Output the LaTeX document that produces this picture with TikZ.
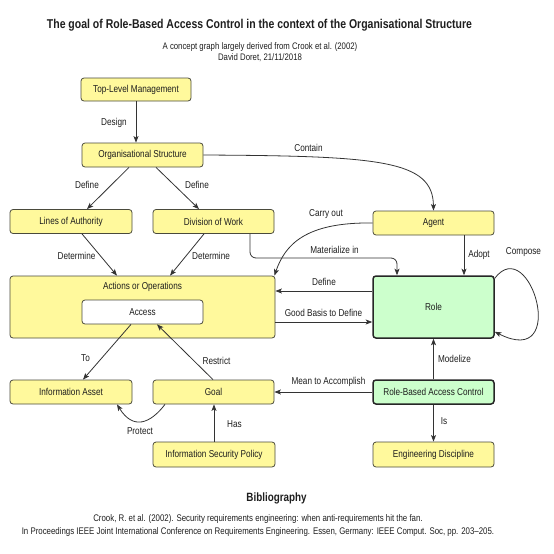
\documentclass[tikz,border=0pt]{standalone}
\usepackage{fontspec}
\setmainfont[FakeStretch=0.82]{Liberation Sans}
\usetikzlibrary{arrows.meta}
\definecolor{boxyellow}{HTML}{FFF99C}
\definecolor{boxgreen}{HTML}{CCFFCC}
\definecolor{boxline}{HTML}{4A4A3C}
\definecolor{edgecol}{HTML}{333333}
\definecolor{txt}{HTML}{1E1E1E}
\begin{document}
\begin{tikzpicture}[x=1pt,y=-1pt,
  every node/.style={text=txt},
  box/.style={draw=boxline,fill=boxyellow,line width=0.8pt,rounded corners=3pt,
    minimum width=121pt,minimum height=24pt,inner sep=0pt,
    font=\fontsize{10}{12}\selectfont},
  gbox/.style={box,fill=boxgreen,draw=black!85,line width=1.5pt},
  lbl/.style={font=\fontsize{10}{12}\selectfont,inner sep=0pt},
  edge/.style={draw=edgecol,line width=0.8pt,-{Stealth[length=6.5pt,width=5pt,inset=1.5pt]}}
]
\useasboundingbox (0,0) rectangle (554,554);

% titles
\node[font=\fontsize{12.8}{15}\selectfont\bfseries,inner sep=0pt] (title) at (259.5,25)
  {The goal of Role-Based Access Control in the context of the Organisational Structure};
\node[font=\fontsize{9.5}{11}\selectfont,align=center,inner sep=0pt] (sub) at (260,52.5)
  {A concept graph largely derived from Crook et al. (2002)\\David Doret, 21/11/2018};
\node[font=\fontsize{12}{14}\selectfont\bfseries,inner sep=0pt] (bib) at (276.5,498) {Bibliography};
\node[font=\fontsize{9.6}{13}\selectfont,align=center,inner sep=0pt] (ref) at (258,525.5)
  {Crook, R. et al. (2002). Security requirements engineering: when anti-requirements hit the fan.\\
   In Proceedings IEEE Joint International Conference on Requirements Engineering. Essen, Germany: IEEE Comput. Soc, pp. 203--205.};

% nodes
\node[box,minimum width=110pt,minimum height=23pt] (tlm) at (136,89.5) {Top-Level Management};
\node[box] (os) at (142.5,155) {Organisational Structure};
\node[box,minimum width=122pt] (loa) at (71,221.5) {Lines of Authority};
\node[box] (dow) at (213.5,221.5) {Division of Work};
\node[box] (agent) at (433.5,223) {Agent};
\node[box,minimum width=265pt,minimum height=62pt] (act) at (142.5,307) {};
\node[lbl] (actl) at (142.5,287) {Actions or Operations};
\node[box,fill=white] (access) at (142.5,312) {Access};
\node[gbox,minimum height=62pt] (role) at (433.5,307) {Role};
\node[box,minimum width=122pt] (ia) at (71,392) {Information Asset};
\node[box] (goal) at (213.5,392) {Goal};
\node[gbox] (rbac) at (433.5,392) {Role-Based Access Control};
\node[box,minimum width=122pt,minimum height=25pt] (isp) at (214,454.5) {Information Security Policy};
\node[box,minimum height=25pt] (ed) at (433.5,454.5) {Engineering Discipline};

% edges
\draw[edge] (tlm.south) -- (tlm.south |- os.north);
\draw[edge] ([xshift=-13.5pt]os.south) -- ([xshift=16pt]loa.north);
\draw[edge] ([xshift=13.5pt]os.south) -- ([xshift=-14.5pt]dow.north);
\draw[edge] (os.east) .. controls (380,156) and (433,160) .. (agent.north);
\draw[edge] ([xshift=11pt]loa.south) -- ([xshift=-25.5pt]act.north);
\draw[edge] ([xshift=-9.5pt]dow.south) -- ([xshift=27.5pt]act.north);
\coordinate (mat1) at (250,258);
\coordinate (mat2) at (397,258);
\draw[edge,rounded corners=6pt] ([xshift=36.5pt]dow.south) -- (mat1) -- (mat2) -- ([xshift=-36.5pt]role.north);
\draw[edge] (agent.west) .. controls (305,222) and (285,245) .. ([xshift=-1pt]act.north east);
\draw[edge] ([xshift=30.5pt]agent.south) -- ([xshift=30.5pt]role.north);
\draw[edge] ([yshift=-3pt]role.north east) .. controls (530,232) and (570,370) .. ([yshift=7pt]role.south east);
\draw[edge] ([yshift=16pt]role.west) -- ([yshift=16pt]role.west -| act.east);
\draw[edge] ([yshift=-15pt]act.east) -- ([yshift=-15pt]act.east -| role.west);
\draw[edge] ([xshift=-11.5pt]access.south) -- ([xshift=12pt]ia.north);
\draw[edge] ([xshift=-0.5pt]goal.north) -- ([xshift=14.5pt]access.south);
\draw[edge] ([xshift=-48.5pt]goal.south) .. controls (150,424) and (133,430) .. ([xshift=46pt]ia.south);
\draw[edge] (isp.north) -- (isp.north |- goal.south);
\draw[edge] (rbac.north) -- (role.south);
\draw[edge] (rbac.west) -- (goal.east);
\draw[edge] (rbac.south) -- (ed.north);

% edge labels
\node[lbl] (e1) at (114,123) {Design};
\node[lbl] (e2) at (87,185) {Define};
\node[lbl] (e3) at (197,185) {Define};
\node[lbl] (e4) at (76.5,256) {Determine};
\node[lbl] (e5) at (211,256) {Determine};
\node[lbl] (e6) at (308.5,147.5) {Contain};
\node[lbl] (e7) at (326,214) {Carry out};
\node[lbl] (e8) at (334.5,250) {Materialize in};
\node[lbl] (e9) at (479,254.5) {Adopt};
\node[lbl] (e10) at (523.5,252.5) {Compose};
\node[lbl] (e11) at (324,282) {Define};
\node[lbl] (e12) at (323.5,313) {Good Basis to Define};
\node[lbl] (e13) at (85.5,358) {To};
\node[lbl] (e14) at (216.5,360.5) {Restrict};
\node[lbl] (e15) at (140,431) {Protect};
\node[lbl] (e16) at (234.5,424) {Has};
\node[lbl] (e17) at (454.5,359) {Modelize};
\node[lbl] (e18) at (328.5,382) {Mean to Accomplish};
\node[lbl] (e19) at (444,421) {Is};
\end{tikzpicture}
\end{document}
